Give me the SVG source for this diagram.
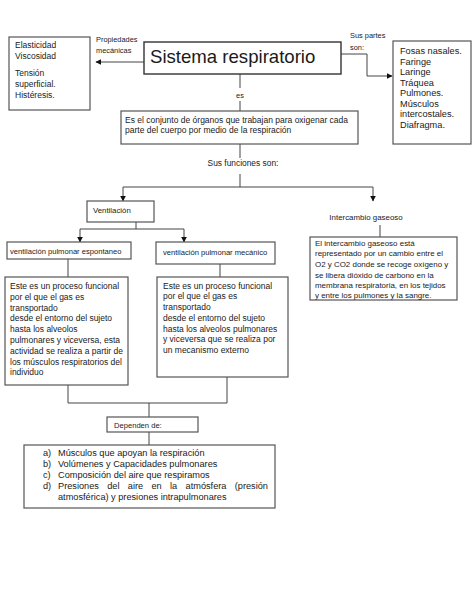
<svg xmlns="http://www.w3.org/2000/svg" width="474" height="614" viewBox="0 0 474 614">
<defs>
<marker id="arr" viewBox="0 0 10 10" refX="9" refY="5" markerWidth="6" markerHeight="6" orient="auto" markerUnits="userSpaceOnUse">
<path d="M0,0 L10,5 L0,10 z" fill="#111"/>
</marker>
<style>
text{font-family:"Liberation Sans",Arial,sans-serif;fill:#1a1a1a}
.box{fill:#fff;stroke:#555;stroke-width:1.2}
.main{fill:#fff;stroke:#333;stroke-width:1.4}
.ln{fill:none;stroke:#444;stroke-width:1}
.lab{font-size:7.4px}
.t85{font-size:8.5px}
.t9{font-size:9.2px}
.ig{font-size:7.95px}
</style>
</defs>
<rect width="474" height="614" fill="#fff"/>
<g id="connectors">
<path class="ln" d="M144,62 H96" marker-end="url(#arr)"/>
<path class="ln" d="M341,54 H367 V76 H392" marker-end="url(#arr)"/>
<path class="ln" d="M240,74 V88 M240,101 V111"/>
<path class="ln" d="M240,144 V158 M240,174 V187"/>
<path class="ln" d="M123,187 H373"/>
<path class="ln" d="M123,187 V201" marker-end="url(#arr)"/>
<path class="ln" d="M373,187 V201" marker-end="url(#arr)"/>
<path class="ln" d="M380,225 V237"/>
<path class="ln" d="M136,222 V229 M80,229 H184"/>
<path class="ln" d="M80,229 V242" marker-end="url(#arr)"/>
<path class="ln" d="M184,229 V242" marker-end="url(#arr)"/>
<path class="ln" d="M68,259 V277 M220,264 V277"/>
<path class="ln" d="M68,385 V403 H227 V377 M149,403 V417 M149,432 V445"/>
</g>
<g id="props">
<rect class="box" x="9" y="37" width="81" height="73"/>
<text class="t85" x="15" y="48">Elasticidad</text>
<text class="t85" x="15" y="59">Viscosidad</text>
<text class="t85" x="15" y="76">Tensión</text>
<text class="t85" x="15" y="87">superficial.</text>
<text class="t85" x="15" y="98"> Histéresis.</text>
</g>
<g id="lbl-props">
<text class="lab" x="96" y="42">Propiedades</text>
<text class="lab" x="96" y="53">mecánicas</text>
</g>
<g id="main">
<rect class="main" x="144" y="42" width="197" height="32"/>
<text x="150" y="63" font-size="18.6">Sistema respiratorio</text>
</g>
<g id="lbl-partes">
<text class="lab" x="350" y="38">Sus partes</text>
<text class="lab" x="350" y="50">son:</text>
</g>
<g id="partes">
<rect class="box" x="393" y="41" width="78" height="103"/>
<text class="t9" x="400" y="54">Fosas nasales.</text>
<text class="t9" x="400" y="65">Faringe</text>
<text class="t9" x="400" y="75">Laringe</text>
<text class="t9" x="400" y="86">Tráquea</text>
<text class="t9" x="400" y="96">Pulmones.</text>
<text class="t9" x="400" y="107">Músculos</text>
<text class="t9" x="400" y="117">intercostales.</text>
<text class="t9" x="400" y="128">Diafragma.</text>
</g>
<g id="lbl-es"><text class="lab" x="240" y="98" text-anchor="middle">es</text></g>
<g id="definicion">
<rect class="box" x="121" y="111" width="237" height="33"/>
<text class="t85" x="125" y="123">Es el conjunto de órganos que trabajan para oxigenar cada</text>
<text class="t85" x="125" y="133">parte del cuerpo por medio de la respiración</text>
</g>
<g id="lbl-funciones"><text x="243" y="166" font-size="8.4" text-anchor="middle">Sus funciones son:</text></g>
<g id="ventilacion">
<rect class="box" x="87" y="201" width="67" height="21"/>
<text x="93" y="213" font-size="7.8">Ventilación</text>
</g>
<g id="intercambio-lbl">
<text x="366" y="220" font-size="7.9" text-anchor="middle">Intercambio gaseoso</text>
</g>
<g id="intercambio">
<rect class="box" x="310" y="237" width="147" height="63"/>
<text class="ig" x="315" y="246">El intercambio gaseoso está</text>
<text class="ig" x="315" y="256">representado por un cambio entre el</text>
<text class="ig" x="315" y="267">O2 y CO2 donde se recoge oxígeno y</text>
<text class="ig" x="315" y="278">se libera dióxido de carbono en la</text>
<text class="ig" x="315" y="288">membrana respiratoria, en los tejidos</text>
<text class="ig" x="315" y="298">y entre los pulmones y la sangre.</text>
</g>
<g id="espontaneo">
<rect class="box" x="7" y="242" width="124" height="17"/>
<text x="10" y="254" font-size="7.6">ventilación pulmonar espontaneo</text>
</g>
<g id="mecanico">
<rect class="box" x="156" y="242" width="119" height="22"/>
<text x="163" y="255" font-size="7.6">ventilación pulmonar mecánico</text>
</g>
<g id="espontaneo-desc">
<rect class="box" x="5" y="277" width="123" height="108"/>
<text class="t85" x="10" y="289">Este es un proceso funcional</text>
<text class="t85" x="10" y="300">por el que el gas es</text>
<text class="t85" x="10" y="311">transportado</text>
<text class="t85" x="10" y="321">desde el entorno del sujeto</text>
<text class="t85" x="10" y="332">hasta los alveolos</text>
<text class="t85" x="10" y="343">pulmonares y viceversa, esta</text>
<text class="t85" x="10" y="354">actividad se realiza a partir de</text>
<text class="t85" x="10" y="365">los músculos respiratorios del</text>
<text class="t85" x="10" y="375">individuo</text>
</g>
<g id="mecanico-desc">
<rect class="box" x="157" y="277" width="131" height="100"/>
<text class="t85" x="163" y="289">Este es un proceso funcional</text>
<text class="t85" x="163" y="299">por el que el gas es</text>
<text class="t85" x="163" y="310">transportado</text>
<text class="t85" x="163" y="321">desde el entorno del sujeto</text>
<text class="t85" x="163" y="332">hasta los alveolos pulmonares</text>
<text class="t85" x="163" y="342">y viceversa que se realiza por</text>
<text class="t85" x="163" y="353">un mecanismo externo</text>
</g>
<g id="dependen">
<rect class="box" x="107" y="417" width="91" height="15"/>
<text x="114" y="428" font-size="7.6">Dependen de:</text>
</g>
<g id="lista">
<rect class="box" x="24" y="445" width="251" height="63"/>
<text class="t9" x="43" y="456">a)</text><text class="t9" x="58" y="456">Músculos que apoyan la respiración</text>
<text class="t9" x="43" y="467">b)</text><text class="t9" x="58" y="467">Volúmenes y Capacidades pulmonares</text>
<text class="t9" x="43" y="478">c)</text><text class="t9" x="58" y="478">Composición del aire que respiramos</text>
<text class="t9" x="43" y="489">d)</text><text class="t9" x="58" y="489" word-spacing="5.8">Presiones del aire en la atmósfera (presión</text>
<text class="t9" x="58" y="500">atmosférica) y presiones intrapulmonares</text>
</g>
</svg>
